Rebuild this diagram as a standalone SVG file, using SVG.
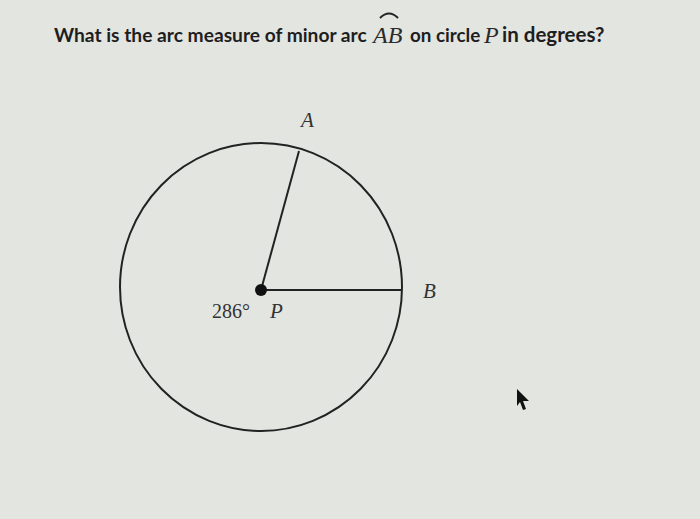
<svg xmlns="http://www.w3.org/2000/svg" width="700" height="519" viewBox="0 0 700 519">
<style>
.q{font-family:Lato,"Liberation Sans",sans-serif;font-weight:bold;font-size:19.2px;fill:#1e1e1e}
.m{font-family:"Liberation Serif",serif;font-style:italic;font-size:24px;fill:#2a2a2a}
.l{font-family:"Liberation Serif",serif;font-style:italic;font-size:21px;fill:#333}
.n{font-family:"Liberation Serif",serif;font-size:20px;fill:#333}
.ln{stroke:#222;stroke-width:2;fill:none}
</style>
<rect width="700" height="519" fill="#e3e5e1"/>
<g id="title">
<text class="q" x="54" y="42">What is the arc measure of minor arc</text>
<text class="m" x="373" y="43">AB</text>
<path d="M380 18 Q389 9 398 18" class="ln" stroke-width="1.6"/>
<text class="q" x="410" y="42" style="font-size:18.8px">on circle</text>
<text class="m" x="484" y="43">P</text>
<text class="q" x="502" y="42" style="font-size:20.5px">in degrees?</text>
</g>
<g id="circle">
<ellipse cx="261" cy="287" rx="141" ry="144" class="ln"/>
</g>
<g id="connectors">
<line x1="261" y1="290" x2="299" y2="151" class="ln"/>
<line x1="261" y1="290" x2="402" y2="290" class="ln"/>
</g>
<g id="P">
<circle cx="261" cy="290" r="6" fill="#111"/>
<text class="n" x="212" y="318">286°</text>
<text class="l" x="270" y="318">P</text>
</g>
<g id="A"><text class="l" x="301" y="127">A</text></g>
<g id="B"><text class="l" x="423" y="298">B</text></g>
<g id="cursor"><path d="M517 389 L529 401 L523 401 L526 409 L523 410 L520 402 L517 406 Z" fill="#111"/></g>
</svg>
